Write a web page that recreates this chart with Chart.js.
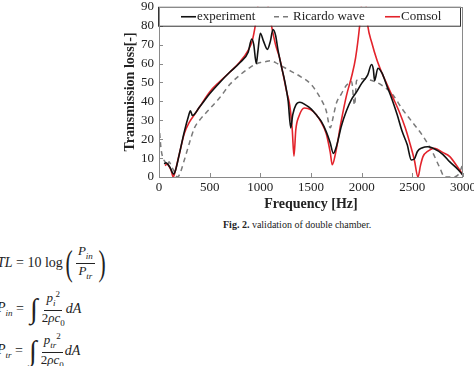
<!DOCTYPE html>
<html>
<head>
<meta charset="utf-8">
<script src="https://cdn.jsdelivr.net/npm/chart.js@4"></script>
<style>
  html, body { margin: 0; padding: 0; background: #fff; }
  body { width: 474px; height: 366px; overflow: hidden; position: relative; font-family: "Liberation Serif", "DejaVu Serif", serif; color: #222; }
  #wrap { position: absolute; left: 0; top: -6px; width: 480px; height: 222px; }
  .caption { position: absolute; top: 219px; left: 223px; font-size: 10px; white-space: nowrap; }
  .eq { position: absolute; left: -3px; font-size: 14px; white-space: nowrap; display: flex; align-items: center; }
  .eq i { font-style: italic; }
  .frac { display: inline-flex; flex-direction: column; align-items: center; margin: 0 1px; font-size: 13px; }
  .frac .num { border-bottom: 1px solid #222; padding: 0 2px; line-height: 13px; }
  .frac .den { line-height: 13px; }
  .paren { font-size: 36px; line-height: 36px; font-weight: 100; transform: scaleX(0.6); }
  .int { font-size: 28px; font-style: italic; margin: 0 3px 0 6px; }
  sub { font-size: 9px; }
  sup { font-size: 9px; }
</style>
</head>
<body>
<div id="wrap"><canvas id="tlChart" width="480" height="222"></canvas></div>

<div class="caption"><b>Fig. 2.</b> validation of double chamber.</div>

<div class="eq" style="top:244px;">
  <i>TL</i>&nbsp;=&nbsp;10&nbsp;log<span class="paren">(</span><span class="frac"><span class="num"><i>P<sub>in</sub></i></span><span class="den"><i>P<sub>tr</sub></i></span></span><span class="paren">)</span>
</div>
<div class="eq" style="top:288px;">
  <i>P<sub>in</sub></i>&nbsp;=<span class="int">∫</span><span class="frac"><span class="num"><i>p<sub>i</sub></i><sup>2</sup></span><span class="den">2<i>ρc</i><sub>0</sub></span></span><i>dA</i>
</div>
<div class="eq" style="top:330px;">
  <i>P<sub>tr</sub></i>&nbsp;=<span class="int">∫</span><span class="frac"><span class="num"><i>p<sub>tr</sub></i><sup>2</sup></span><span class="den">2<i>ρc</i><sub>0</sub></span></span><i>dA</i>
</div>

<script>
// ===== Data =====
const expFreq = [50, 70, 90, 110, 130, 145, 160, 200, 250, 290, 310, 330, 400, 500, 600, 700, 800, 880, 915, 935, 960, 975, 1000, 1030, 1070, 1100, 1125, 1150, 1175, 1210, 1240, 1275, 1300, 1320, 1350, 1390, 1450, 1500, 1550, 1600, 1650, 1690, 1720, 1750, 1800, 1850, 1900, 1950, 2000, 2060, 2097, 2115, 2128, 2160, 2200, 2250, 2300, 2350, 2400, 2450, 2490, 2520, 2550, 2600, 2650, 2700, 2800, 2870, 2950, 3000];
const expTL = [7, 7.5, 6.5, 5, 2.5, 1.5, 3, 12, 24, 32, 35, 32.5, 37, 44, 50, 55.5, 60.5, 66, 73, 70, 60, 66, 76, 72, 67.5, 72, 78, 75, 67, 58, 51, 40, 26, 33, 38, 39.5, 38, 36, 33, 29.5, 24, 18, 12.5, 16, 27, 35, 41, 45, 49.5, 54, 59.5, 57, 51, 57.5, 55, 48, 41, 33, 24, 17, 9, 9.5, 13.5, 15.5, 16, 15.3, 12, 8, 4, 1];

const ricFreq = [0, 20, 40, 60, 80, 100, 120, 150, 180, 200, 250, 300, 350, 400, 500, 600, 700, 800, 900, 950, 1000, 1050, 1100, 1150, 1200, 1300, 1400, 1500, 1600, 1650, 1690, 1720, 1750, 1800, 1850, 1900, 1930, 1950, 2000, 2100, 2200, 2300, 2400, 2500, 2600, 2700, 2770, 2820, 2900, 2950, 3000];
const ricTL = [28, 15, 10, 8, 6, 8, 6, 3, 0, 1, 9, 18, 26, 30, 36, 42, 49, 54, 58, 59.5, 60.5, 61, 61.5, 60.5, 59, 56, 53, 49, 41, 35, 26, 32, 39, 44, 48.5, 50.5, 38, 51, 52, 51, 48.5, 44, 36, 29, 22, 13, 5, 0, 0, 1, 7];

const comFreq = [60, 80, 100, 120, 140, 160, 200, 250, 300, 350, 400, 500, 600, 700, 800, 880, 920, 950, 980, 1025, 1070, 1110, 1150, 1190, 1230, 1260, 1290, 1315, 1332, 1350, 1380, 1435, 1500, 1550, 1600, 1650, 1690, 1710, 1740, 1800, 1850, 1900, 1940, 1980, 2000, 2025, 2060, 2100, 2150, 2200, 2250, 2300, 2375, 2430, 2475, 2520, 2556, 2580, 2605, 2650, 2720, 2800, 2870, 2950, 3000];
const comTL = [6, 7, 5.5, 3.5, 0, 3, 12, 23, 29, 33, 37, 45, 50.5, 55.5, 61, 67, 72, 80, 92, 100, 92, 80, 70, 63, 53, 45, 38, 25, 11, 25, 32, 36.5, 35.5, 33, 29, 23, 13, 6.5, 12, 30, 43, 53, 63, 80, 92, 100, 80, 71, 62, 55, 49, 43, 34, 26, 18, 9, 0, 6, 10.8, 13.5, 15.2, 13, 10.8, 5, 1];

const yTicks = [0, 10, 20, 30, 40, 50, 60, 70, 80, 90];
const xTicks = [0, 500, 1000, 1500, 2000, 2500, 3000];

const serif = '"Liberation Serif", "DejaVu Serif", serif';

function toPoints(xs, ys) {
  return xs.map((x, i) => ({ x: x, y: ys[i] }));
}

// frame, inward ticks and the boxed legend sitting over the top of the plot
const framePlugin = {
  id: 'frame',
  afterDatasetsDraw(chart) {
    const { ctx, chartArea: a, scales: { x, y } } = chart;
    ctx.save();
    ctx.strokeStyle = '#8a8a8a';
    ctx.lineWidth = 1;
    ctx.beginPath();
    xTicks.forEach(v => {
      const px = Math.round(x.getPixelForValue(v)) + 0.5;
      ctx.moveTo(px, a.bottom);
      ctx.lineTo(px, a.bottom - 4);
    });
    yTicks.forEach(v => {
      const py = Math.round(y.getPixelForValue(v)) + 0.5;
      ctx.moveTo(a.left, py);
      ctx.lineTo(a.left + 4, py);
    });
    ctx.stroke();

    // legend box
    const top = y.getPixelForValue(90);
    const bot = y.getPixelForValue(80);
    ctx.fillStyle = '#fff';
    ctx.fillRect(a.left, top, a.right - a.left - 2, bot - top);
    ctx.strokeStyle = '#333';
    ctx.strokeRect(a.left - 0.5, top + 0.5, a.right - a.left - 2, bot - top);

    const items = [
      { x: 181, text: 'experiment', color: '#111', dash: [] },
      { x: 274, text: 'Ricardo wave', color: '#7a7a7a', dash: [5, 4] },
      { x: 385, text: 'Comsol', color: '#e3232b', dash: [] }
    ];
    const cy = (top + bot) / 2 + 0.5;
    ctx.font = '13px ' + serif;
    ctx.textBaseline = 'middle';
    items.forEach(it => {
      ctx.strokeStyle = it.color;
      ctx.lineWidth = 1.6;
      ctx.setLineDash(it.dash);
      ctx.beginPath();
      ctx.moveTo(it.x, cy);
      ctx.lineTo(it.x + (it.dash.length ? 18 : 15), cy);
      ctx.stroke();
      ctx.setLineDash([]);
      ctx.fillStyle = '#222';
      ctx.fillText(it.text, it.x + (it.dash.length ? 19 : 16), cy);
    });

    // plot border
    ctx.strokeStyle = '#8a8a8a';
    ctx.lineWidth = 1;
    ctx.strokeRect(Math.round(a.left) + 0.5, Math.round(a.top) + 0.5, Math.round(a.right - a.left) - 1, Math.round(a.bottom - a.top));
    ctx.restore();
  }
};

const ctx = document.getElementById('tlChart').getContext('2d');

new Chart(ctx, {
  type: 'line',
  data: {
    datasets: [
      {
        label: 'experiment',
        data: toPoints(expFreq, expTL),
        borderColor: '#111',
        borderWidth: 1.6,
        pointRadius: 0,
        cubicInterpolationMode: 'monotone',
        fill: false
      },
      {
        label: 'Comsol',
        data: toPoints(comFreq, comTL),
        borderColor: '#e3232b',
        borderWidth: 1.6,
        pointRadius: 0,
        cubicInterpolationMode: 'monotone',
        fill: false
      },
      {
        label: 'Ricardo wave',
        data: toPoints(ricFreq, ricTL),
        borderColor: '#7a7a7a',
        borderWidth: 1.5,
        borderDash: [5, 4],
        pointRadius: 0,
        cubicInterpolationMode: 'monotone',
        fill: false
      }
    ]
  },
  options: {
    responsive: false,
    animation: false,
    layout: { padding: { left: 118, right: 17, top: 0, bottom: 0 } },
    plugins: {
      legend: { display: false },
      tooltip: { enabled: false }
    },
    scales: {
      x: {
        type: 'linear',
        min: 0,
        max: 3000,
        afterBuildTicks: s => { s.ticks = xTicks.map(v => ({ value: v })); },
        afterFit: s => { s.height = 39; },
        grid: { display: false, drawTicks: false },
        border: { display: false },
        ticks: { color: '#222', font: { family: serif, size: 13 }, padding: 3, maxRotation: 0, autoSkip: false, callback: v => String(v) },
        title: { display: true, text: 'Frequency [Hz]', color: '#222', font: { family: serif, size: 14, weight: 'bold' }, padding: { top: 2, bottom: 3 } }
      },
      y: {
        min: 0,
        max: 90,
        afterBuildTicks: s => { s.ticks = yTicks.map(v => ({ value: v })); },
        afterFit: s => { s.width = 41; },
        grid: { display: false, drawTicks: false },
        border: { display: false },
        ticks: { color: '#222', font: { family: serif, size: 13 }, padding: 5, autoSkip: false, callback: v => String(v) },
        title: { display: true, text: 'Transmission loss[-]', color: '#222', font: { family: serif, size: 14, weight: 'bold' }, padding: { top: 4, bottom: 2 } }
      }
    }
  },
  plugins: [framePlugin]
});
</script>
</body>
</html>
